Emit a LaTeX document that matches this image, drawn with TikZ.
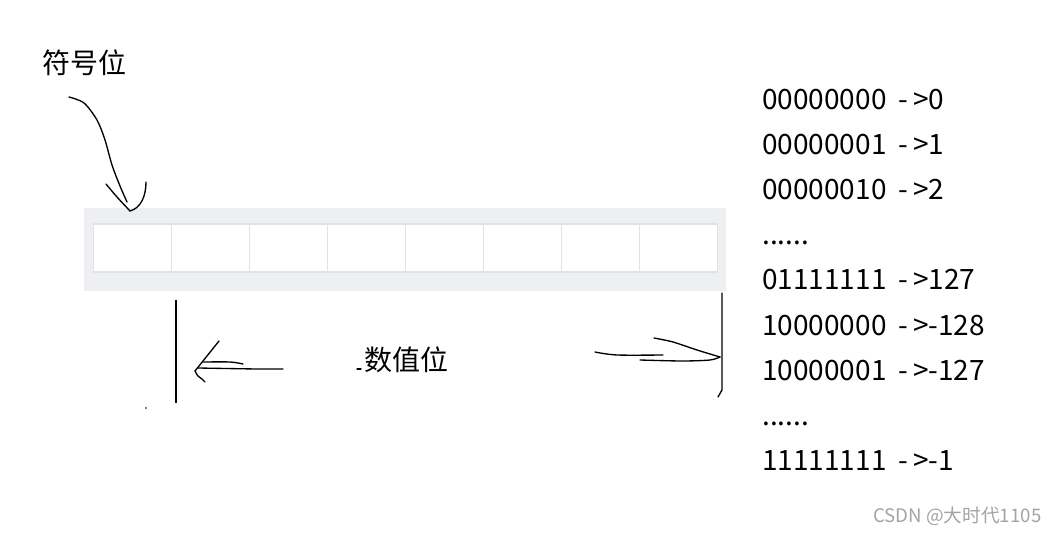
\documentclass[tikz,border=0pt]{standalone}
\usepackage{fontspec}
\setmainfont{Noto Sans CJK SC}
\definecolor{panelgray}{HTML}{EEEFF3}
\definecolor{cellline}{HTML}{E2E2E2}
\definecolor{wmgray}{HTML}{A3A3A3}
\newcommand{\arr}{\hspace{0.42em}-\hspace{0.18em}>}
\begin{document}
\begin{tikzpicture}[x=0.75pt,y=-0.75pt,
  ink/.style={line width=1pt,line cap=round,line join=round},
  lbl/.style={inner sep=0pt,anchor=base west,font=\fontsize{21pt}{21pt}\selectfont},
  cjk/.style={inner sep=0pt,anchor=west,font=\fontsize{21pt}{21pt}\selectfont},
  cell/.style={fill=white,draw=cellline,line width=0.8pt}]
\useasboundingbox (0,0) rectangle (1059,534);
% panel
\fill[panelgray] (84,208) rectangle (726,291);
\foreach \i in {0,...,7}{
  \pgfmathsetmacro{\xa}{93.5+\i*78.05}
  \pgfmathsetmacro{\xb}{93.5+(\i+1)*78.05}
  \draw[cell] (\xa,224) rectangle (\xb,272);
}
% labels
\node[cjk] (sign) at (42,63) {符号位};
\node[cjk] (value) at (364,360) {数值位};
% sign arrow
\draw[ink] plot[smooth] coordinates {(69,97) (84,103) (97,120) (105,140) (112,165) (120,186) (127,202)};
\draw[ink] plot[smooth] coordinates {(106,184) (117,197) (130,211)};
\draw[ink] (130,211) .. controls (141,208) and (146,196) .. (146,182);
% left bracket and arrow
\draw[line width=1.4pt] (176,300) -- (176,403);
\fill (146,408) circle (0.9);
\draw[ink] (219,341) -- (195,371);
\draw[ink] plot[smooth] coordinates {(195,371) (198,376) (202,379) (205,382)};
\draw[ink] plot[smooth] coordinates {(203,362) (230,362) (243,364)};
\draw[ink] plot[smooth] coordinates {(198,368) (257,369) (283,369)};
\draw[ink] (357,369) -- (361,369);
% right bracket and arrow
\draw[ink] plot[smooth] coordinates {(595,352) (617,355) (663,355)};
\draw[ink] plot[smooth] coordinates {(654,338) (673,342) (697,350) (720,357)};
\draw[ink] plot[smooth] coordinates {(640,360) (682,361) (710,360) (720,357)};
\draw[ink] (722,293) -- (722,390) -- (718,397);
% right list
\node[lbl] (l1) at (762,110) {00000000\arr0};
\node[lbl] (l2) at (762,155) {00000001\arr1};
\node[lbl] (l3) at (762,200) {00000010\arr2};
\node[lbl] (l4) at (762,245) {......};
\node[lbl] (l5) at (762,290) {01111111\arr127};
\node[lbl] (l6) at (762,335) {10000000\arr-128};
\node[lbl] (l7) at (762,380) {10000001\arr-127};
\node[lbl] (l8) at (762,425) {......};
\node[lbl] (l9) at (762,470) {11111111\arr-1};
% watermark
\node[inner sep=0pt,anchor=west,text=wmgray,font=\fontsize{14pt}{14pt}\selectfont] (wm) at (873,516) {CSDN @大时代1105};
\end{tikzpicture}
\end{document}
